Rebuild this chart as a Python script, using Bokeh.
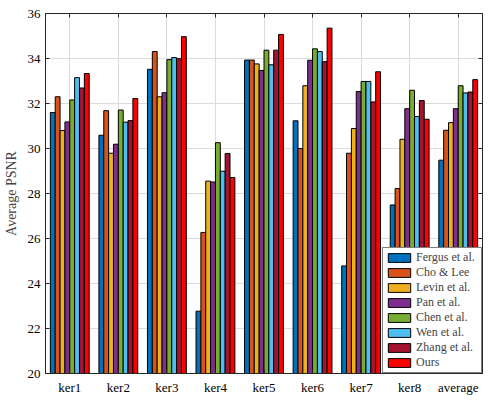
from bokeh.plotting import figure
from bokeh.models import (FactorRange, Range1d, FixedTicker, CategoricalAxis, LinearAxis,
                          Legend, LegendItem, ColumnDataSource)
from bokeh.transform import dodge
from bokeh.embed import file_html
from bokeh.resources import INLINE

categories = ["ker1", "ker2", "ker3", "ker4", "ker5", "ker6", "ker7", "ker8", "average"]
methods = ["Fergus et al.", "Cho & Lee", "Levin et al.", "Pan et al.", "Chen et al.",
           "Wen et al.", "Zhang et al.", "Ours"]
fergus = [31.60, 30.59, 33.52, 22.77, 33.93, 31.23, 24.78, 27.49, 29.48]
cho    = [32.30, 31.68, 34.31, 26.27, 33.93, 30.00, 29.79, 28.22, 30.81]
levin  = [30.80, 29.79, 32.30, 28.55, 33.76, 32.79, 30.89, 30.41, 31.15]
pan    = [31.18, 30.19, 32.48, 28.51, 33.47, 33.92, 32.53, 31.77, 31.77]
chen   = [32.16, 31.71, 33.95, 30.26, 34.37, 34.43, 32.98, 32.59, 32.79]
wen    = [33.15, 31.17, 34.04, 28.99, 33.72, 34.31, 32.98, 31.42, 32.47]
zhang  = [32.69, 31.24, 33.99, 29.78, 34.37, 33.86, 32.07, 32.13, 32.51]
ours   = [33.33, 32.22, 34.97, 28.71, 35.07, 35.35, 33.41, 31.30, 33.06]
series = [fergus, cho, levin, pan, chen, wen, zhang, ours]
colors = ["#0072BD", "#D95319", "#EDB120", "#7E2F8E", "#77AC30", "#4DBEEE", "#A2142F", "#FF0000"]
y_ticks = [20, 22, 24, 26, 28, 30, 32, 34, 36]

FONT = "'Liberation Serif', serif"

p = figure(width=484, height=397, x_range=FactorRange(*categories), y_range=Range1d(20, 36),
           output_backend="svg", toolbar_location=None,
           min_border_left=42, min_border_right=2, min_border_top=13, min_border_bottom=10)

data = {"cat": categories}
for i, s in enumerate(series):
    data[f"s{i}"] = s
src = ColumnDataSource(data)

bw = 0.1
items = []
for i, (name, col) in enumerate(zip(methods, colors)):
    off = (i - 3.5) * bw
    r = p.vbar(x=dodge("cat", off, range=p.x_range), top=f"s{i}", bottom=20, width=bw,
               source=src, fill_color=col, line_color="black", line_width=1)
    items.append(LegendItem(label=name, renderers=[r]))

p.yaxis.ticker = FixedTicker(ticks=y_ticks)
p.ygrid.ticker = FixedTicker(ticks=y_ticks)
p.yaxis.axis_label = "Average PSNR"

for ax in [p.xaxis[0], p.yaxis[0]]:
    ax.major_label_text_font = FONT
    ax.major_label_text_font_size = "13px"
    ax.major_label_text_color = "black"
    ax.axis_line_color = "#262626"
    ax.major_tick_line_color = "#262626"
    ax.major_tick_in = 4
    ax.major_tick_out = 0
    ax.minor_tick_line_color = None
p.yaxis.axis_label_text_font = FONT
p.yaxis.axis_label_text_font_style = "normal"
p.yaxis.axis_label_text_font_size = "14px"
p.yaxis.axis_label_standoff = 6
p.xaxis.major_label_standoff = 6

top_ax = CategoricalAxis(major_label_text_color=None, major_label_text_font_size="1px",
                         major_label_standoff=0, axis_line_color="#262626",
                         major_tick_line_color="#262626", major_tick_in=4, major_tick_out=0)
right_ax = LinearAxis(ticker=FixedTicker(ticks=y_ticks), major_label_text_color=None,
                      major_label_text_font_size="1px", major_label_standoff=0,
                      axis_line_color="#262626", major_tick_line_color="#262626",
                      major_tick_in=4, major_tick_out=0, minor_tick_line_color=None)
p.add_layout(top_ax, "above")
p.add_layout(right_ax, "right")

p.grid.grid_line_color = "#dcdcdc"
p.grid.grid_line_width = 1
p.outline_line_color = "#262626"

legend = Legend(items=items, location="bottom_right", label_text_font=FONT,
                label_text_font_size="12px", glyph_width=28, glyph_height=11,
                label_height=12, label_width=63, spacing=0, padding=2, margin=0,
                border_line_color="black", border_line_width=1,
                label_standoff=3, background_fill_alpha=1)
p.add_layout(legend)

open("out.html", "w").write(file_html(p, INLINE))
